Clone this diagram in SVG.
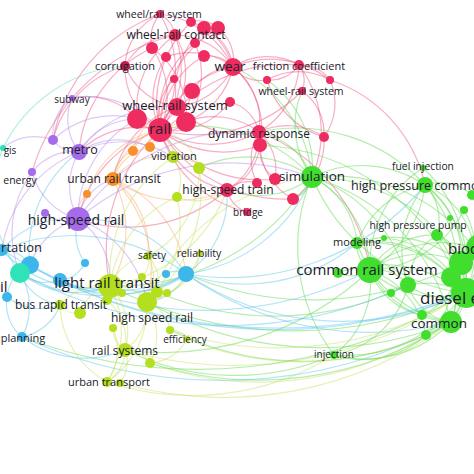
<svg xmlns="http://www.w3.org/2000/svg" width="474" height="474" viewBox="0 0 474 474">
<style>
.e path{fill:none;stroke-width:1.2;stroke-opacity:.46}
.er{stroke:#ee4f7f}.eg{stroke:#5cd84a}.ey{stroke:#c6e15e}.ec{stroke:#5cc4ec}.et{stroke:#4fe0bf}.ep{stroke:#b58ceb}.eo{stroke:#f6ad6a}
.nr{fill:#ee2c60}.nd{fill:#c41a4c}.ng{fill:#41de2e}.ny{fill:#b3df1e}.nc{fill:#3db6ea}.nt{fill:#2ee3b8}.np{fill:#a56bea}.no{fill:#f7902b}
text{font-family:'Open Sans','Noto Sans',sans-serif;fill:#20202a;dominant-baseline:central}
.m{text-anchor:middle}
</style>
<rect width="474" height="474" fill="#fff"/>
<g id="connectors">
<g class="e er">
<path d="M160 14A30 30 0 0 1 175 35"/><path d="M160 14A40 40 0 0 0 152 48"/><path d="M160 14A116 116 0 0 1 160 130"/><path d="M160 14A93 93 0 0 1 233 67"/>
<path d="M191 22A28 28 0 0 1 218 28"/><path d="M191 22A112 112 0 0 0 160 130"/><path d="M191 22A64 64 0 0 1 233 67"/><path d="M204 28A83 83 0 0 0 177 107"/>
<path d="M204 28A50 50 0 0 1 233 67"/><path d="M218 28A41 41 0 0 1 233 67"/><path d="M218 28A117 117 0 0 0 160 130"/><path d="M175 35A97 97 0 0 1 160 130"/>
<path d="M175 35A70 70 0 0 1 233 67"/><path d="M175 35A72 72 0 0 1 177 107"/><path d="M152 48A83 83 0 0 1 160 130"/><path d="M152 48A81 81 0 0 1 186 122"/>
<path d="M166 57A73 73 0 0 0 160 130"/><path d="M166 57A71 71 0 0 1 233 67"/><path d="M195 43A80 80 0 0 1 186 122"/><path d="M195 43A93 93 0 0 0 160 130"/>
<path d="M204 56A86 86 0 0 0 160 130"/><path d="M204 56A33 33 0 0 1 233 67"/><path d="M125 66A73 73 0 0 0 160 130"/><path d="M125 66A66 66 0 0 0 177 107"/>
<path d="M125 66A59 59 0 0 1 175 35"/><path d="M125 66A60 60 0 0 1 160 14"/><path d="M233 67A99 99 0 0 0 160 130"/><path d="M233 67A63 63 0 0 1 299 65"/>
<path d="M233 67A34 34 0 0 0 267 80"/><path d="M233 67A95 95 0 0 1 330 80"/><path d="M233 67A69 69 0 0 1 259 132"/><path d="M233 67A71 71 0 0 1 177 107"/>
<path d="M299 65A35 35 0 0 1 267 80"/><path d="M299 65A35 35 0 0 1 330 80"/><path d="M299 65A26 26 0 0 1 302 91"/><path d="M299 65A153 153 0 0 0 160 130"/>
<path d="M267 80A63 63 0 0 1 330 80"/><path d="M302 91A148 148 0 0 1 160 130"/><path d="M330 80A57 57 0 0 1 324 137"/><path d="M174 79A53 53 0 0 0 160 130"/>
<path d="M192 91A50 50 0 0 1 160 130"/><path d="M192 91A51 51 0 0 1 233 67"/><path d="M230 102A75 75 0 0 1 160 130"/><path d="M230 102A40 40 0 0 1 259 132"/>
<path d="M177 107A29 29 0 0 0 160 130"/><path d="M177 107A86 86 0 0 0 259 132"/><path d="M137 119A25 25 0 0 0 160 130"/><path d="M160 130A27 27 0 0 0 186 122"/>
<path d="M160 130A99 99 0 0 0 259 132"/><path d="M160 130A101 101 0 0 0 260 145"/><path d="M160 130A90 90 0 0 0 227 190"/><path d="M186 122A74 74 0 0 1 259 132"/>
<path d="M259 132A66 66 0 0 1 227 190"/><path d="M259 132A65 65 0 0 1 324 137"/><path d="M260 145A55 55 0 0 1 227 190"/><path d="M260 145A63 63 0 0 0 293 199"/>
<path d="M227 190A31 31 0 0 1 257 183"/><path d="M227 190A30 30 0 0 0 247 212"/><path d="M257 183A51 51 0 0 1 259 132"/><path d="M275 179A125 125 0 0 1 160 130"/>
<path d="M293 199A148 148 0 0 1 160 130"/><path d="M247 212A120 120 0 0 1 160 130"/><path d="M233 67A80 80 0 0 1 260 145"/><path d="M137 119A91 91 0 0 1 175 35"/>
<path d="M186 122A76 76 0 0 0 233 67"/><path d="M302 91A52 52 0 0 1 324 137"/><path d="M299 65A81 81 0 0 1 259 132"/><path d="M267 80A84 84 0 0 0 324 137"/>
<path d="M160 130A84 84 0 0 0 79 152"/><path d="M137 119A68 68 0 0 0 72 98"/><path d="M160 130A121 121 0 0 0 78 219"/><path d="M177 107A96 96 0 0 0 113 179"/>
<path d="M330 80A142 142 0 0 1 425 185"/><path d="M299 65A113 113 0 0 1 312 177"/><path d="M259 132A177 177 0 0 1 370 270"/><path d="M125 66A103 103 0 0 0 53 140"/>
<path d="M152 48A127 127 0 0 0 79 152"/><path d="M160 14A165 165 0 0 0 53 140"/><path d="M175 35A198 198 0 0 0 32 172"/><path d="M227 190A152 152 0 0 1 78 219"/>
<path d="M160 130A164 164 0 0 0 110 286"/><path d="M260 145A37 37 0 0 0 275 179"/><path d="M324 137A69 69 0 0 1 293 199"/><path d="M259 132A50 50 0 0 1 275 179"/>
</g>
<g class="e eg">
<path d="M312 177A134 134 0 0 0 233 67"/><path d="M312 177A107 107 0 0 0 267 80"/><path d="M312 177A71 71 0 0 0 259 132"/><path d="M312 177A158 158 0 0 0 160 130"/>
<path d="M312 177A110 110 0 0 1 370 270"/><path d="M312 177A113 113 0 0 1 425 185"/><path d="M312 177A80 80 0 0 1 357 243"/><path d="M312 177A145 145 0 0 1 408 285"/>
<path d="M312 177A172 172 0 0 1 461 263"/><path d="M312 177A201 201 0 0 1 451 322"/><path d="M312 177A191 191 0 0 0 464 293"/><path d="M312 177A29 29 0 0 1 293 199"/>
<path d="M312 177A87 87 0 0 1 227 190"/><path d="M312 177A177 177 0 0 1 474 248"/><path d="M312 177A179 179 0 0 0 334 355"/><path d="M312 177A87 87 0 0 1 302 91"/>
<path d="M370 270A114 114 0 0 0 425 185"/><path d="M370 270A76 76 0 0 1 437 235"/><path d="M370 270A30 30 0 0 1 357 243"/><path d="M370 270A41 41 0 0 1 408 285"/>
<path d="M370 270A91 91 0 0 1 461 263"/><path d="M370 270A97 97 0 0 0 464 293"/><path d="M370 270A95 95 0 0 0 451 322"/><path d="M370 270A92 92 0 0 1 334 355"/>
<path d="M370 270A69 69 0 0 0 422 315"/><path d="M370 270A86 86 0 0 1 426 335"/><path d="M370 270A115 115 0 0 1 423 168"/><path d="M370 270A33 33 0 0 1 338 273"/>
<path d="M370 270A111 111 0 0 0 464 210"/><path d="M370 270A106 106 0 0 1 474 248"/><path d="M425 185A111 111 0 0 1 464 293"/><path d="M425 185A86 86 0 0 1 461 263"/>
<path d="M425 185A48 48 0 0 1 472 195"/><path d="M425 185A51 51 0 0 1 437 235"/><path d="M425 185A140 140 0 0 1 451 322"/><path d="M425 185A93 93 0 0 0 357 243"/>
<path d="M425 185A80 80 0 0 1 474 248"/><path d="M425 185A102 102 0 0 0 408 285"/><path d="M464 293A31 31 0 0 1 451 322"/><path d="M464 293A54 54 0 0 1 426 335"/>
<path d="M464 293A57 57 0 0 1 408 285"/><path d="M464 293A114 114 0 0 0 357 243"/><path d="M464 293A64 64 0 0 0 437 235"/><path d="M464 293A142 142 0 0 1 334 355"/>
<path d="M461 263A37 37 0 0 0 437 235"/><path d="M461 263A60 60 0 0 1 451 322"/><path d="M408 285A54 54 0 0 0 451 322"/><path d="M437 235A88 88 0 0 1 451 322"/>
<path d="M334 355A120 120 0 0 0 451 322"/><path d="M334 355A93 93 0 0 0 426 335"/><path d="M338 273A129 129 0 0 1 464 293"/><path d="M357 243A106 106 0 0 1 461 263"/>
<path d="M357 243A120 120 0 0 0 451 322"/><path d="M384 238A97 97 0 0 1 464 293"/><path d="M391 293A73 73 0 0 1 464 293"/><path d="M422 315A65 65 0 0 0 461 263"/>
<path d="M464 210A83 83 0 0 1 464 293"/><path d="M472 195A98 98 0 0 1 464 293"/><path d="M423 168A134 134 0 0 1 464 293"/><path d="M437 235A61 61 0 0 0 408 285"/>
<path d="M451 277A100 100 0 0 0 357 243"/><path d="M451 277A63 63 0 0 1 426 335"/><path d="M334 355A94 94 0 0 0 408 285"/>
<path d="M464 293A400 400 0 0 1 110 286"/><path d="M451 322A350 350 0 0 1 147 302"/><path d="M464 293A500 500 0 0 1 22 337"/><path d="M370 270A300 300 0 0 1 125 350"/>
<path d="M451 322A350 350 0 0 1 150 363"/><path d="M461 263A320 320 0 0 1 186 274"/><path d="M408 285A300 300 0 0 1 157 292"/><path d="M426 335A300 300 0 0 1 170 330"/>
<path d="M334 355A250 250 0 0 1 125 350"/><path d="M312 177A230 230 0 0 1 110 286"/><path d="M312 177A113 113 0 0 0 199 168"/>
<path d="M425 185A175 175 0 0 0 259 132"/><path d="M464 293A230 230 0 0 0 260 145"/>
</g>
<g class="e ec">
<path d="M2 250A32 32 0 0 1 30 265"/><path d="M20 273A41 41 0 0 0 60 280"/><path d="M60 280A30 30 0 0 0 85 263"/><path d="M30 265A39 39 0 0 0 7 297"/>
<path d="M7 297A43 43 0 0 0 22 337"/><path d="M22 337A65 65 0 0 0 20 273"/><path d="M186 274A157 157 0 0 1 30 265"/><path d="M186 274A166 166 0 0 1 20 273"/>
<path d="M186 274A126 126 0 0 1 60 280"/><path d="M166 274A20 20 0 0 1 186 274"/><path d="M186 274A77 77 0 0 1 110 286"/><path d="M2 250A184 184 0 0 1 186 274"/>
<path d="M186 274A121 121 0 0 0 78 219"/><path d="M20 273A91 91 0 0 0 110 286"/><path d="M60 280A50 50 0 0 0 110 286"/><path d="M22 337A104 104 0 0 0 125 350"/>
<path d="M2 250A87 87 0 0 1 78 219"/><path d="M464 293A500 500 0 0 1 30 265"/><path d="M451 322A320 320 0 0 1 186 274"/><path d="M370 270A360 360 0 0 1 60 280"/>
<path d="M408 285A430 430 0 0 1 20 273"/><path d="M464 293A520 520 0 0 1 2 250"/><path d="M451 322A480 480 0 0 1 22 337"/><path d="M30 265A123 123 0 0 1 79 152"/>
<path d="M85 263A51 51 0 0 1 78 219"/><path d="M186 274A48 48 0 0 1 147 302"/><path d="M22 337A50 50 0 0 0 60 305"/><path d="M7 297A54 54 0 0 0 60 305"/>
<path d="M20 273A51 51 0 0 0 60 305"/><path d="M2 250A115 115 0 0 0 110 286"/><path d="M186 274A93 93 0 0 0 227 190"/><path d="M186 274A159 159 0 0 0 312 177"/>
<path d="M186 274A174 174 0 0 0 357 243"/><path d="M186 274A255 255 0 0 0 425 185"/><path d="M186 274A279 279 0 0 0 464 293"/>
</g>
<g class="e et">
<path d="M3 148A126 126 0 0 0 20 273"/><path d="M3 148A147 147 0 0 1 125 66"/>
</g>
<g class="e ep">
<path d="M79 152A67 67 0 0 0 78 219"/><path d="M79 152A67 67 0 0 1 137 119"/><path d="M79 152A29 29 0 0 1 53 140"/><path d="M53 140A86 86 0 0 1 137 119"/>
<path d="M78 219A113 113 0 0 1 137 119"/><path d="M78 219A34 34 0 0 1 45 213"/><path d="M78 219A66 66 0 0 1 32 172"/><path d="M32 172A52 52 0 0 1 79 152"/>
<path d="M72 98A95 95 0 0 1 160 130"/><path d="M72 98A54 54 0 0 0 79 152"/><path d="M78 219A51 51 0 0 1 113 179"/><path d="M78 219A73 73 0 0 0 30 265"/>
<path d="M78 219A74 74 0 0 1 110 286"/><path d="M79 152A94 94 0 0 1 173 157"/><path d="M79 152A71 71 0 0 1 150 147"/><path d="M78 219A238 238 0 0 1 312 177"/>
<path d="M32 172A103 103 0 0 0 20 273"/><path d="M78 219A108 108 0 0 1 147 302"/><path d="M79 152A107 107 0 0 1 177 107"/><path d="M78 219A201 201 0 0 1 259 132"/>
<path d="M72 98A45 45 0 0 0 53 140"/><path d="M79 152A124 124 0 0 0 2 250"/><path d="M53 140A50 50 0 0 0 3 148"/>
</g>
<g class="e eo">
<path d="M113 179A67 67 0 0 1 160 130"/><path d="M113 179A34 34 0 0 1 133 151"/><path d="M113 179A49 49 0 0 1 150 147"/><path d="M113 179A107 107 0 0 1 110 286"/>
<path d="M113 179A64 64 0 0 1 173 157"/><path d="M133 151A36 36 0 0 1 160 130"/><path d="M150 147A18 18 0 0 1 160 130"/><path d="M87 194A26 26 0 0 0 78 219"/>
<path d="M113 179A85 85 0 0 1 148 256"/><path d="M113 179A117 117 0 0 1 186 274"/><path d="M113 179A115 115 0 0 0 227 190"/><path d="M133 151A60 60 0 0 1 177 107"/>
<path d="M150 147A43 43 0 0 1 186 122"/><path d="M113 179A127 127 0 0 1 147 302"/><path d="M87 194A94 94 0 0 1 160 130"/>
</g>
<g class="e ey">
<path d="M110 286A40 40 0 0 1 147 302"/><path d="M110 286A66 66 0 0 1 125 350"/><path d="M110 286A54 54 0 0 0 60 305"/><path d="M110 286A40 40 0 0 0 80 313"/>
<path d="M110 286A96 96 0 0 1 107 382"/><path d="M147 302A53 53 0 0 1 125 350"/><path d="M147 302A61 61 0 0 1 150 363"/><path d="M147 302A36 36 0 0 1 170 330"/>
<path d="M125 350A37 37 0 0 1 107 382"/><path d="M125 350A28 28 0 0 1 150 363"/><path d="M125 350A25 25 0 0 1 113 328"/><path d="M60 305A21 21 0 0 0 80 313"/>
<path d="M107 382A90 90 0 0 0 147 302"/><path d="M148 256A48 48 0 0 0 110 286"/><path d="M148 256A46 46 0 0 1 147 302"/><path d="M173 157A143 143 0 0 0 110 286"/>
<path d="M199 168A141 141 0 0 1 147 302"/><path d="M177 197A112 112 0 0 0 110 286"/><path d="M177 197A110 110 0 0 1 147 302"/><path d="M173 157A40 40 0 0 1 177 197"/>
<path d="M200 253A73 73 0 0 1 147 302"/><path d="M173 157A30 30 0 0 0 160 130"/><path d="M199 168A52 52 0 0 0 160 130"/><path d="M177 197A50 50 0 0 0 227 190"/>
<path d="M334 355A270 270 0 0 1 107 382"/><path d="M464 293A400 400 0 0 1 125 350"/><path d="M426 335A320 320 0 0 1 150 363"/><path d="M451 322A300 300 0 0 1 187 339"/>
<path d="M464 293A340 340 0 0 1 170 330"/><path d="M451 322A380 380 0 0 1 120 383"/><path d="M107 300A53 53 0 0 1 125 350"/><path d="M157 292A37 37 0 0 0 148 256"/>
<path d="M167 293A49 49 0 0 0 200 253"/><path d="M142 277A21 21 0 0 0 148 256"/><path d="M173 157A28 28 0 0 1 199 168"/><path d="M199 168A95 95 0 0 1 148 256"/>
<path d="M147 302A207 207 0 0 1 312 177"/><path d="M110 286A149 149 0 0 0 227 190"/><path d="M125 350A34 34 0 0 1 120 383"/><path d="M113 328A55 55 0 0 1 107 382"/>
<path d="M170 330A19 19 0 0 1 187 339"/><path d="M150 363A44 44 0 0 0 187 339"/><path d="M60 305A91 91 0 0 0 107 382"/>
</g>
</g>
<g id="nodes">
<g id="n-r2"><circle class="nr" cx="191" cy="22" r="5"/></g>
<g id="n-r3"><circle class="nr" cx="204" cy="28" r="7"/></g>
<g id="n-r4"><circle class="nr" cx="218" cy="28" r="7"/></g>
<g id="n-r6"><circle class="nr" cx="152" cy="48" r="6"/></g>
<g id="n-r7"><circle class="nr" cx="166" cy="57" r="5"/></g>
<g id="n-r8"><circle class="nr" cx="195" cy="43" r="5"/></g>
<g id="n-r9"><circle class="nr" cx="204" cy="56" r="6"/></g>
<g id="n-r13"><circle class="nr" cx="267" cy="80" r="4"/></g>
<g id="n-r14"><circle class="nr" cx="330" cy="80" r="4"/></g>
<g id="n-r16"><circle class="nr" cx="174" cy="79" r="4"/></g>
<g id="n-r17"><circle class="nr" cx="192" cy="91" r="8"/></g>
<g id="n-r18"><circle class="nr" cx="230" cy="102" r="5"/></g>
<g id="n-r20"><circle class="nr" cx="137" cy="119" r="10"/></g>
<g id="n-r22"><circle class="nr" cx="186" cy="122" r="10"/></g>
<g id="n-r24"><circle class="nr" cx="260" cy="145" r="7"/></g>
<g id="n-r25"><circle class="nr" cx="324" cy="137" r="5"/></g>
<g id="n-r27"><circle class="nr" cx="257" cy="183" r="5"/></g>
<g id="n-r28"><circle class="nr" cx="275" cy="179" r="6"/></g>
<g id="n-r29"><circle class="nr" cx="293" cy="199" r="6"/></g>
<g id="n-o1"><circle class="no" cx="133" cy="151" r="5"/></g>
<g id="n-o2"><circle class="no" cx="150" cy="147" r="5"/></g>
<g id="n-o4"><circle class="no" cx="87" cy="194" r="4"/></g>
<g id="n-p2"><circle class="np" cx="53" cy="140" r="5"/></g>
<g id="n-p5"><circle class="np" cx="45" cy="213" r="4"/></g>
<g id="n-y2"><circle class="ny" cx="199" cy="168" r="6"/></g>
<g id="n-y3"><circle class="ny" cx="177" cy="197" r="5"/></g>
<g id="n-y7"><circle class="ny" cx="122" cy="293" r="4"/></g>
<g id="n-y9"><circle class="ny" cx="157" cy="292" r="6"/></g>
<g id="n-y10"><circle class="ny" cx="167" cy="293" r="4"/></g>
<g id="n-y11"><circle class="ny" cx="142" cy="277" r="4"/></g>
<g id="n-y13"><circle class="ny" cx="80" cy="313" r="6"/></g>
<g id="n-y14"><circle class="ny" cx="107" cy="300" r="5"/></g>
<g id="n-y15"><circle class="ny" cx="113" cy="328" r="4"/></g>
<g id="n-y16"><circle class="ny" cx="170" cy="330" r="4"/></g>
<g id="n-y19"><circle class="ny" cx="150" cy="363" r="5"/></g>
<g id="n-y21"><circle class="ny" cx="120" cy="383" r="4"/></g>
<g id="n-c2"><circle class="nc" cx="30" cy="265" r="9"/></g>
<g id="n-t1"><circle class="nt" cx="20" cy="273" r="10"/></g>
<g id="n-c3"><circle class="nc" cx="60" cy="280" r="7"/></g>
<g id="n-c4"><circle class="nc" cx="85" cy="263" r="4"/></g>
<g id="n-c7"><circle class="nc" cx="166" cy="274" r="4"/></g>
<g id="n-c8"><circle class="nc" cx="186" cy="274" r="8"/></g>
<g id="n-g4"><circle class="ng" cx="472" cy="195" r="5"/></g>
<g id="n-g5"><circle class="ng" cx="464" cy="210" r="4"/></g>
<g id="n-g7"><circle class="ng" cx="450" cy="218" r="3"/></g>
<g id="n-g9"><circle class="ng" cx="384" cy="238" r="3"/></g>
<g id="n-g11"><circle class="ng" cx="338" cy="273" r="5"/></g>
<g id="n-g12"><circle class="ng" cx="408" cy="285" r="8"/></g>
<g id="n-g13"><circle class="ng" cx="391" cy="293" r="4"/></g>
<g id="n-g14"><circle class="ng" cx="461" cy="263" r="12"/></g>
<g id="n-g15"><circle class="ng" cx="451" cy="277" r="10"/></g>
<g id="n-g17"><circle class="ng" cx="422" cy="315" r="5"/></g>
<g id="n-g19"><circle class="ng" cx="426" cy="335" r="5"/></g>

<g id="n-wheel-rail-system-slash"><circle class="nr" cx="160" cy="14" r="4"/><text class="m" x="159" y="14" font-size="10.5">wheel/rail system</text></g>
<g id="n-wheel-rail-contact"><circle class="nr" cx="175" cy="35" r="6"/><text class="m" x="176" y="34" font-size="12">wheel-rail contact</text></g>
<g id="n-corrugation"><circle class="nd" cx="125" cy="66" r="5"/><text class="m" x="125" y="65" font-size="11">corrugation</text></g>
<g id="n-wear"><circle class="nr" cx="233" cy="67" r="9"/><text class="m" x="230" y="66" font-size="13.5">wear</text></g>
<g id="n-friction-coefficient"><circle class="nr" cx="299" cy="65" r="5"/><text class="m" x="299" y="65" font-size="11">friction coefficient</text></g>
<g id="n-wheel-rail-system-2"><circle class="nr" cx="302" cy="91" r="4"/><text class="m" x="301" y="91" font-size="10.5">wheel-rail system</text></g>
<g id="n-wheel-rail-system"><circle class="nr" cx="177" cy="107" r="9"/><text class="m" x="175" y="105" font-size="13">wheel-rail system</text></g>
<g id="n-rail"><circle class="nr" cx="160" cy="130" r="12"/><text class="m" x="160" y="128" font-size="15">rail</text></g>
<g id="n-dynamic-response"><circle class="nr" cx="259" cy="132" r="7"/><text class="m" x="259" y="133" font-size="12">dynamic response</text></g>
<g id="n-high-speed-train"><circle class="nr" cx="227" cy="190" r="7"/><text class="m" x="228" y="189" font-size="12">high-speed train</text></g>
<g id="n-bridge"><circle class="nr" cx="247" cy="212" r="4"/><text class="m" x="248" y="212" font-size="10">bridge</text></g>
<g id="n-urban-rail-transit"><circle class="no" cx="113" cy="179" r="7"/><text class="m" x="114" y="178" font-size="12">urban rail transit</text></g>
<g id="n-subway"><circle class="np" cx="72" cy="98" r="3"/><text class="m" x="72" y="99" font-size="10">subway</text></g>
<g id="n-metro"><circle class="np" cx="79" cy="152" r="8"/><text class="m" x="80" y="149" font-size="12.5">metro</text></g>
<g id="n-energy"><circle class="np" cx="32" cy="172" r="4"/><text class="m" x="20" y="180" font-size="10.5">energy</text></g>
<g id="n-high-speed-rail"><circle class="np" cx="78" cy="219" r="12"/><text class="m" x="76" y="219" font-size="14">high-speed rail</text></g>
<g id="n-gis"><circle class="nt" cx="3" cy="148" r="3"/><text class="m" x="10" y="150" font-size="10">gis</text></g>
<g id="n-vibration"><circle class="ny" cx="173" cy="157" r="6"/><text class="m" x="174" y="155" font-size="11">vibration</text></g>
<g id="n-transportation"><circle class="nc" cx="2" cy="250" r="6"/><text x="42" y="247" font-size="13" text-anchor="end">rtation</text></g>
<g id="n-rail-left"><circle class="nc" cx="7" cy="297" r="5"/><text x="0" y="286" font-size="15">il</text></g>
<g id="n-planning"><circle class="nc" cx="22" cy="337" r="5"/><text class="m" x="23" y="337" font-size="11">planning</text></g>
<g id="n-safety"><circle class="ny" cx="148" cy="256" r="4"/><text class="m" x="152" y="255" font-size="10">safety</text></g>
<g id="n-reliability"><circle class="ny" cx="200" cy="253" r="3"/><text class="m" x="199" y="253" font-size="10.5">reliability</text></g>
<g id="n-high-speed-rail-2"><circle class="ny" cx="147" cy="302" r="10"/><text class="m" x="152" y="317" font-size="12">high speed rail</text></g>
<g id="n-light-rail-transit"><circle class="ny" cx="110" cy="286" r="12"/><text class="m" x="107" y="282" font-size="15">light rail transit</text></g>
<g id="n-bus-rapid-transit"><circle class="ny" cx="60" cy="305" r="5"/><text class="m" x="61" y="304" font-size="12">bus rapid transit</text></g>
<g id="n-efficiency"><circle class="ny" cx="187" cy="339" r="3"/><text class="m" x="185" y="339" font-size="10">efficiency</text></g>
<g id="n-rail-systems"><circle class="ny" cx="125" cy="350" r="7"/><text class="m" x="125" y="350" font-size="12">rail systems</text></g>
<g id="n-urban-transport"><circle class="ny" cx="107" cy="382" r="5"/><text class="m" x="109" y="381" font-size="11">urban transport</text></g>
<g id="n-simulation"><circle class="ng" cx="312" cy="177" r="11"/><text class="m" x="312" y="176" font-size="13.5">simulation</text></g>
<g id="n-fuel-injection"><circle class="ng" cx="423" cy="168" r="3"/><text class="m" x="423" y="166" font-size="10.3">fuel injection</text></g>
<g id="n-high-pressure-common"><circle class="ng" cx="425" cy="185" r="8"/><text x="351" y="185" font-size="12.5">high pressure commo</text></g>
<g id="n-high-pressure-pump"><circle class="ng" cx="437" cy="235" r="6"/><text class="m" x="418" y="225" font-size="10.3">high pressure pump</text></g>
<g id="n-modeling"><circle class="ng" cx="357" cy="243" r="6"/><text class="m" x="357" y="241" font-size="11">modeling</text></g>
<g id="n-biodiesel"><circle class="ng" cx="480" cy="248" r="14"/><text x="448" y="248" font-size="15">biod</text></g>
<g id="n-common-rail-system"><circle class="ng" cx="370" cy="270" r="13"/><text class="m" x="367" y="269" font-size="15">common rail system</text></g>
<g id="n-diesel-engine"><circle class="ng" cx="466" cy="293" r="15"/><text x="420" y="297" font-size="17">diesel e</text></g>
<g id="n-common"><circle class="ng" cx="451" cy="322" r="11"/><text class="m" x="439" y="323" font-size="13.5">common</text></g>
<g id="n-injection"><circle class="ng" cx="334" cy="355" r="4"/><text class="m" x="334" y="354" font-size="10">injection</text></g>
</g>
</svg>
